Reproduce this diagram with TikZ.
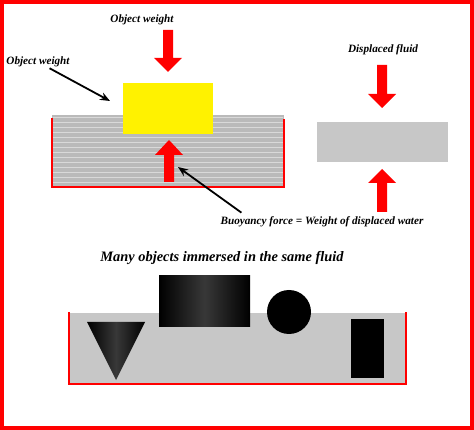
\documentclass[tikz,border=0pt]{standalone}
\usepackage{fontspec}
\setmainfont{Liberation Serif}
\usetikzlibrary{arrows.meta}

% red block arrow: x centre, tail y, head base y, tip y
\newcommand\forcearrow[4]{%
  \fill[red] (#1-5,#2) -- (#1-5,#3) -- (#1-14,#3) -- (#1,#4)
    -- (#1+14,#3) -- (#1+5,#3) -- (#1+5,#2) -- cycle;}

\tikzset{
  lbl/.style={font=\bfseries\itshape\fontsize{11.2}{13}\selectfont, inner sep=1pt},
  pointer/.style={black, line width=1.8pt, -{Stealth[length=10pt,width=8pt]}},
  tank/.style={red, line width=2.5pt},
  fluid/.style={fill=black!22},
}

\begin{document}
\begin{tikzpicture}[x=1pt,y=-1pt]
  \useasboundingbox (0,0) rectangle (474,430);
  \draw[red, line width=3.5pt] (2,2) rectangle (472,428);

  %% Single object floating
  \fill[black!27] (52,115) rectangle (284,186);
  \foreach \yy in {118,123,...,183}
    \draw[white!85!black, line width=1pt] (53,\yy) -- (283,\yy);
  \draw[tank] (52,118) -- (52,187) -- (284,187) -- (284,119);
  \fill[yellow] (123,83) rectangle (213,134);

  \node[lbl] (wtop) at (142,20) {Object weight};
  \node[lbl] (wleft) at (38,62) {Object weight};
  \coordinate (objtip) at (110,101);
  \draw[pointer] (wleft) -- (objtip);

  \forcearrow{168}{30}{58}{72}
  \forcearrow{169}{182}{155}{140}

  %% Displaced fluid
  \node[lbl] (disp) at (383,50) {Displaced fluid};
  \forcearrow{382}{65}{94}{108}
  \fill[fluid] (317,122) rectangle (448,162);
  \forcearrow{382}{212}{183}{169}

  \node[lbl] (buoy) at (322,222) {Buoyancy force = Weight of displaced water};
  \coordinate (buoytip) at (178,167);
  \draw[pointer] ([xshift=22pt,yshift=3pt]buoy.north west) -- (buoytip);

  %% Many objects
  \node[lbl, font=\bfseries\itshape\fontsize{14.4}{17}\selectfont] (title) at (222,258)
    {Many objects immersed in the same fluid};
  \fill[fluid] (69,313) rectangle (406,383);
  \draw[tank] (69,312) -- (69,384) -- (406,384) -- (406,312);
  \shade[left color=black, right color=black, middle color=black!78]
    (87,322) -- (145,322) -- (116,380) -- cycle;
  \shade[left color=black, right color=black, middle color=black!78]
    (159,276) rectangle (250,327);
  \fill[black] (289,312) circle (22);
  \fill[black] (351,319) rectangle (384,378);
\end{tikzpicture}
\end{document}
